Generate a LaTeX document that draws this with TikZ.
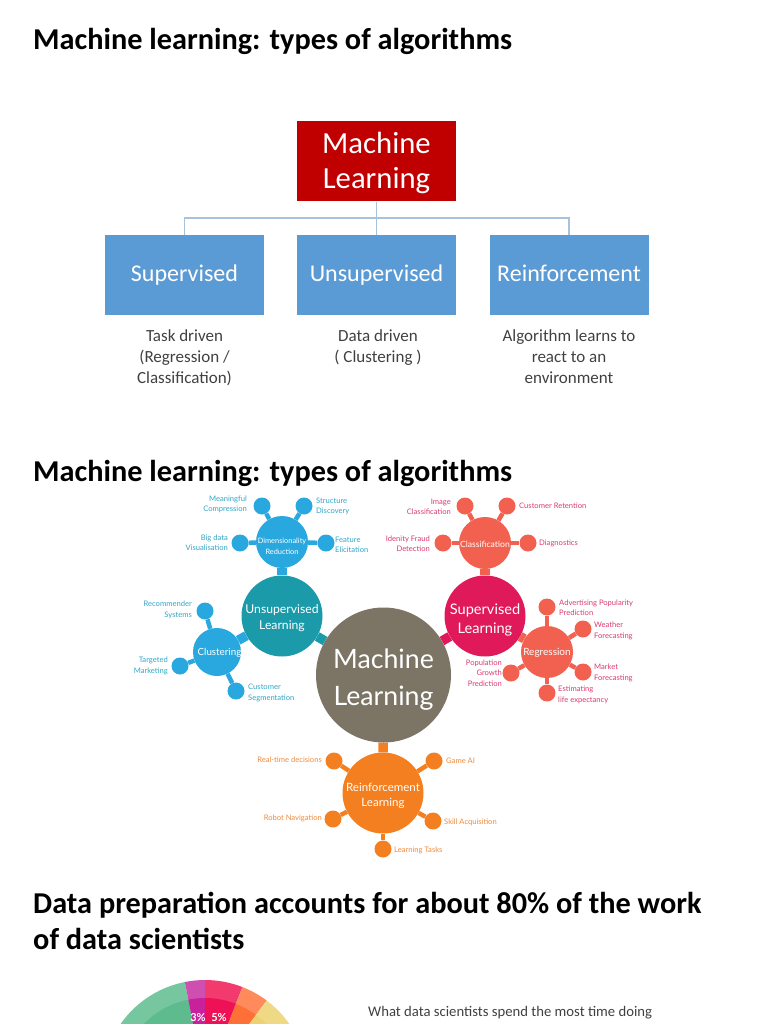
\documentclass[tikz,border=0pt]{standalone}
\usepackage{fontspec}
\setmainfont{Carlito}
\newfontfamily\radial{Lato}
\usetikzlibrary{backgrounds}
\definecolor{tred}{HTML}{C00000}
\definecolor{tblue}{HTML}{5B9BD5}
\definecolor{tline}{HTML}{A6C3DE}
\definecolor{ttext}{HTML}{404040}
\definecolor{mlgrey}{HTML}{7C7566}
\definecolor{uteal}{HTML}{1B9AAA}
\definecolor{ublue}{HTML}{29A8E0}
\definecolor{scrim}{HTML}{E0195A}
\definecolor{scoral}{HTML}{F2604F}
\definecolor{rorange}{HTML}{F47F20}
\definecolor{lblblue}{HTML}{2FA5C6}
\definecolor{lblred}{HTML}{DB3A72}
\definecolor{lblor}{HTML}{EE8A3C}
\definecolor{pga}{HTML}{76C6A0}\definecolor{pgb}{HTML}{5DBB8E}
\definecolor{ppa}{HTML}{CF4FB0}\definecolor{ppb}{HTML}{C9209B}
\definecolor{pra}{HTML}{F23A6F}\definecolor{prb}{HTML}{EF1155}
\definecolor{poa}{HTML}{FF8A5C}\definecolor{pob}{HTML}{FF7038}
\definecolor{pya}{HTML}{EFD985}\definecolor{pyb}{HTML}{ECD272}
\newcommand{\fs}[2]{\fontsize{#1}{#2}\selectfont}
\tikzset{
  x=1pt,y=-1pt,
  titletext/.style={anchor=base west,inner sep=0pt,font=\fs{30.3}{36}\bfseries,text=black},
  treebox/.style={rectangle,inner sep=0pt,minimum width=159pt,minimum height=80pt,align=center,text=white,fill=tblue},
  rootbox/.style={treebox,fill=tred},
  leafbox/.style={treebox,font=\fs{24}{29},text height=16pt,text depth=3pt},
  desc/.style={align=center,inner sep=0pt,text=ttext,font=\fs{17}{21}},
  tree/.style={draw=tline,line width=1.3pt},
  hub/.style={circle,inner sep=0pt,minimum size=#1},
  hubtext/.style={align=center,text=white,inner sep=0pt},
  sat/.style={circle,inner sep=0pt,minimum size=17pt},
  lab/.style={inner sep=0pt,font=\radial\fs{7.6}{10.4}},
  labr/.style={lab,anchor=east,align=right},
  labl/.style={lab,anchor=west,align=left},
  thick link/.style={line width=9.5pt},
  thin link/.style={line width=4.5pt},
  pct/.style={inner sep=0pt,text=white,font=\radial\fs{11}{13}\bfseries},
}
\begin{document}
\begin{tikzpicture}
\useasboundingbox (0,0) rectangle (768,1024);
% titles
\node[titletext] (t1) at (33,50) {Machine learning: types of algorithms};
\node[titletext] (t2) at (33,481) {Machine learning: types of algorithms};
\node[titletext] (t3) at (33,913) {Data preparation accounts for about 80\% of the work};
\node[titletext] (t4) at (33,949) {of data scientists};
% tree
\node[rootbox,label={[hubtext,font=\fs{30.7}{35},yshift=-1.5pt]center:Machine\\Learning}] (ml) at (376.5,161.5) {};
\node[leafbox] (sup) at (184.5,275) {Supervised};
\node[leafbox] (uns) at (376.5,275) {Unsupervised};
\node[leafbox] (rei) at (569,275) {Reinforcement};
\coordinate (bus) at (376.5,218);
\draw[tree,line width=1.7pt] (ml.south) -- (bus);
\draw[tree] (bus) -| (sup.north);
\draw[tree] (bus) -| (rei.north);
\draw[tree] (bus) -- (uns.north);
\node[desc] (d1) at (184.5,357.5) {Task driven\\(Regression /\\Classification)};
\node[desc] (d2) at (378,347.5) {Data driven\\( Clustering )};
\node[desc] (d3) at (569,356.5) {Algorithm learns to\\react to an\\environment};
% radial hubs
\node[hub=135pt,fill=mlgrey,label={[hubtext,font=\radial\fs{26.7}{37},yshift=-5pt]center:Machine\\Learning}] (core) at (383.5,675) {};
\node[hub=81pt,fill=uteal,label={[hubtext,font=\radial\fs{12.2}{16},yshift=-2pt]center:Unsupervised\\Learning}] (unsup) at (282,616) {};
\node[hub=81pt,fill=scrim,label={[hubtext,font=\radial\fs{14.6}{19},yshift=-4pt]center:Supervised\\Learning}] (super) at (485,616) {};
\node[hub=81pt,fill=rorange,label={[hubtext,font=\radial\fs{11.5}{15},yshift=-3pt]center:Reinforcement\\Learning}] (reinf) at (383,793) {};
\node[hub=52pt,fill=ublue,label={[hubtext,font=\radial\fs{7.4}{11},yshift=-4pt]center:Dimensionality\\Reduction}] (dim) at (282,542) {};
\node[hub=48pt,fill=ublue,label={[hubtext,font=\radial\fs{9.8}{12},xshift=2.5pt,yshift=-1pt]center:Clustering}] (clus) at (217,652) {};
\node[hub=52pt,fill=scoral,label={[hubtext,font=\radial\fs{8.6}{12},yshift=-1.5pt]center:Classification}] (clas) at (485,543) {};
\node[hub=52pt,fill=scoral,label={[hubtext,font=\radial\fs{10}{12},yshift=-1pt]center:Regression}] (regr) at (547,652) {};
% satellites
\node[sat,fill=ublue] (d-a) at (262,506) {};
\node[sat,fill=ublue] (d-b) at (304,506) {};
\node[sat,fill=ublue] (d-c) at (240,543) {};
\node[sat,fill=ublue] (d-d) at (326,543) {};
\node[sat,fill=ublue] (c-a) at (205,611) {};
\node[sat,fill=ublue] (c-b) at (180,666) {};
\node[sat,fill=ublue] (c-c) at (236,691) {};
\node[sat,fill=scoral] (k-a) at (465,506) {};
\node[sat,fill=scoral] (k-b) at (507,506) {};
\node[sat,fill=scoral] (k-c) at (443,543) {};
\node[sat,fill=scoral] (k-d) at (528,543) {};
\node[sat,fill=scoral] (r-a) at (547,607) {};
\node[sat,fill=scoral] (r-b) at (583,629) {};
\node[sat,fill=scoral] (r-c) at (583,672) {};
\node[sat,fill=scoral] (r-d) at (547,693) {};
\node[sat,fill=scoral] (r-e) at (511,673) {};
\node[sat,fill=rorange] (o-a) at (334,761) {};
\node[sat,fill=rorange] (o-b) at (434,761) {};
\node[sat,fill=rorange] (o-c) at (333,819) {};
\node[sat,fill=rorange] (o-d) at (433,821) {};
\node[sat,fill=rorange] (o-e) at (383,849) {};
% connectors
\begin{pgfonlayer}{background}
\draw[thick link,uteal] (core) -- (unsup);
\draw[thick link,scrim] (core) -- (super);
\draw[thick link,rorange] (core) -- (reinf);
\draw[thick link,ublue] (unsup) -- (dim);
\draw[thick link,ublue] (unsup) -- (clus);
\draw[thick link,scoral] (super) -- (clas);
\draw[thick link,scoral] (super) -- (regr);
\foreach \s in {d-a,d-b,d-c,d-d} \draw[thin link,ublue] (dim) -- (\s);
\foreach \s in {c-a,c-b,c-c} \draw[thin link,ublue] (clus) -- (\s);
\foreach \s in {k-a,k-b,k-c,k-d} \draw[thin link,scoral] (clas) -- (\s);
\foreach \s in {r-a,r-b,r-c,r-d,r-e} \draw[thin link,scoral] (regr) -- (\s);
\foreach \s in {o-a,o-b,o-c,o-d,o-e} \draw[thin link,rorange] (reinf) -- (\s);
\end{pgfonlayer}
% labels
\begin{scope}[text=lblblue]
\node[labr] (l1) at (247,504.5) {Meaningful\\Compression};
\node[labl] (l2) at (316,506.5) {Structure\\Discovery};
\node[labr] (l3) at (228,543) {Big data\\Visualisation};
\node[labl] (l4) at (335,545) {Feature\\Elicitation};
\node[labr] (l5) at (192,610) {Recommender\\Systems};
\node[labr] (l6) at (168,666) {Targeted\\Marketing};
\node[labl] (l7) at (248,693) {Customer\\Segmentation};
\end{scope}
\begin{scope}[text=lblred]
\node[labr] (l8) at (451,507) {Image\\Classification};
\node[labl] (l9) at (519,506) {Customer Retention};
\node[labr] (l10) at (430,544) {Idenity Fraud\\Detection};
\node[labl] (l11) at (539,543) {Diagnostics};
\node[labl] (l12) at (559,608) {Advertising Popularity\\Prediction};
\node[labl] (l13) at (594,631) {Weather\\Forecasting};
\node[labl] (l14) at (594,673) {Market\\Forecasting};
\node[labl] (l15) at (558,695) {Estimating\\life expectancy};
\node[labr] (l16) at (502,673) {Population\\Growth\\Prediction};
\end{scope}
\begin{scope}[text=lblor]
\node[labr] (l17) at (322,760) {Real-time decisions};
\node[labl] (l18) at (446,761) {Game AI};
\node[labr] (l19) at (322,818) {Robot Navigation};
\node[labl] (l20) at (444,822) {Skill Acquisition};
\node[labl] (l21) at (394,850) {Learning Tasks};
\end{scope}
% bottom chart
\begin{scope}
\clip (0,0) rectangle (768,1024);
\begin{scope}[shift={(205,1083)},y=1pt]
\fill[pga] (0,0) -- (178:103) arc (178:101.3:103) -- cycle;
\fill[ppa] (0,0) -- (101.3:103) arc (101.3:90:103) -- cycle;
\fill[pra] (0,0) -- (90:103) arc (90:68.7:103) -- cycle;
\fill[poa] (0,0) -- (68.7:103) arc (68.7:53.2:103) -- cycle;
\fill[pya] (0,0) -- (53.2:103) arc (53.2:2:103) -- cycle;
\fill[pgb] (0,0) -- (178:85) arc (178:101.3:85) -- cycle;
\fill[ppb] (0,0) -- (101.3:85) arc (101.3:90:85) -- cycle;
\fill[prb] (0,0) -- (90:85) arc (90:68.7:85) -- cycle;
\fill[pob] (0,0) -- (68.7:85) arc (68.7:53.2:85) -- cycle;
\fill[pyb] (0,0) -- (53.2:85) arc (53.2:2:85) -- cycle;
\end{scope}
\end{scope}
\node[pct] (p1) at (198,1018) {3\%};
\node[pct] (p2) at (219,1018) {5\%};
\node[anchor=base west,inner sep=0pt,text=ttext,font=\fs{14.7}{18}] (what) at (368,1016) {What data scientists spend the most time doing};
\end{tikzpicture}
\end{document}
